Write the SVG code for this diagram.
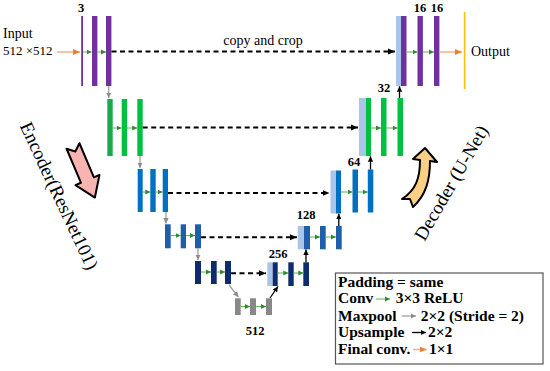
<svg xmlns="http://www.w3.org/2000/svg" width="550" height="371" viewBox="0 0 550 371">
<style>
.t{font-family:"Liberation Serif","Times New Roman",serif;fill:#000}
.n{font-size:12.5px;font-weight:bold;text-anchor:middle}
.lg{font-size:15.5px;font-weight:bold}
.pu{fill:#7030a0}.gr{fill:#00c040}.gr2{fill:#1aa84c}.bl{fill:#0070c0}.b3{fill:#1f5fa8}.nv{fill:#0e2b6e}.gy{fill:#888888}.lb{fill:#a9c5e9}
.cg{stroke:#62b062;stroke-width:1;fill:none}
.cm{stroke:#a0a0a0;stroke-width:1.3;fill:none}
.cu{stroke:#000;stroke-width:1.3;fill:none}
.cd{stroke:#000;stroke-width:2;stroke-dasharray:5 3.5;fill:none}
.co{stroke:#f6b08a;stroke-width:1.5;fill:none}
</style>
<defs>
<marker id="hg" markerUnits="userSpaceOnUse" markerWidth="6" markerHeight="6" refX="5" refY="3" orient="auto"><path d="M0,0.6 L5,3 L0,5.4 Z" fill="#2e8b2e"/></marker>
<marker id="hm" markerUnits="userSpaceOnUse" markerWidth="7" markerHeight="7" refX="5.5" refY="3.5" orient="auto"><path d="M0,0.8 L5.5,3.5 L0,6.2 Z" fill="#8c8c8c"/></marker>
<marker id="hu" markerUnits="userSpaceOnUse" markerWidth="7" markerHeight="7" refX="5.5" refY="3.5" orient="auto"><path d="M0,0.8 L5.5,3.5 L0,6.2 Z" fill="#000"/></marker>
<marker id="hd" markerUnits="userSpaceOnUse" markerWidth="8" markerHeight="8" refX="7" refY="4" orient="auto"><path d="M0,1 L7,4 L0,7 Z" fill="#000"/></marker>
<marker id="ho" markerUnits="userSpaceOnUse" markerWidth="8" markerHeight="8" refX="7" refY="4" orient="auto"><path d="M0,1 L7,4 L0,7 Z" fill="#f08030"/></marker>
</defs>

<g id="input-label">
<text class="t" x="3" y="38" font-size="14">Input</text>
<text class="t" x="3" y="55" font-size="13">512 ×512</text>
</g>

<g id="enc0">
<rect x="81.2" y="16" width="1.8" height="70" class="pu"/>
<rect x="92" y="16" width="5.4" height="70" class="pu"/>
<rect x="106" y="16" width="5.4" height="70" class="pu"/>
<text class="t n" x="81" y="12">3</text>
</g>
<g id="dec0">
<rect x="396" y="16" width="5" height="70" class="lb"/>
<rect x="401" y="16" width="5.5" height="70" class="pu"/>
<rect x="417.5" y="16" width="5.4" height="70" class="pu"/>
<rect x="434" y="16" width="5.4" height="70" class="pu"/>
<text class="t n" x="420" y="12">16</text>
<text class="t n" x="437" y="12">16</text>
</g>
<g id="output">
<rect x="463.8" y="12" width="1.6" height="77" fill="#ffc000"/>
<text class="t" x="471" y="56" font-size="14">Output</text>
</g>

<g id="enc1">
<rect x="107.3" y="99" width="5.4" height="57" class="gr2"/>
<rect x="121.7" y="99" width="5.4" height="57" class="gr"/>
<rect x="137.3" y="99" width="5.4" height="57" class="gr"/>
</g>
<g id="dec1">
<rect x="359" y="98" width="7" height="58" class="lb"/>
<rect x="366" y="98" width="5" height="58" class="gr"/>
<rect x="381" y="98" width="5.5" height="58" class="gr"/>
<rect x="397.5" y="98" width="5.5" height="58" class="gr"/>
<text class="t n" x="384" y="92">32</text>
</g>

<g id="enc2">
<rect x="137.7" y="169" width="5" height="43" class="bl"/>
<rect x="150.3" y="169" width="5.4" height="43" class="bl"/>
<rect x="162.7" y="169" width="5.3" height="43" class="bl"/>
</g>
<g id="dec2">
<rect x="330.5" y="170.5" width="5.5" height="43" class="lb"/>
<rect x="336" y="170.5" width="5" height="43" class="bl"/>
<rect x="352.5" y="169.5" width="5.5" height="43" class="bl"/>
<rect x="367.8" y="169.5" width="5.5" height="43" class="bl"/>
<text class="t n" x="354" y="166">64</text>
</g>

<g id="enc3">
<rect x="165" y="224.3" width="5.7" height="24" class="b3"/>
<rect x="180.7" y="224.3" width="5.3" height="24" class="b3"/>
<rect x="195" y="224.3" width="6" height="24" class="b3"/>
</g>
<g id="dec3">
<rect x="297.7" y="226" width="6.3" height="23.3" class="lb"/>
<rect x="304" y="226" width="6" height="23.3" class="b3"/>
<rect x="320" y="226" width="5.7" height="23.3" class="b3"/>
<rect x="336" y="226" width="5.7" height="23.3" class="b3"/>
<text class="t n" x="306" y="219">128</text>
</g>

<g id="enc4">
<rect x="195" y="261" width="6" height="23" class="nv"/>
<rect x="211" y="261" width="5.7" height="23" class="nv"/>
<rect x="225" y="261" width="6" height="23" class="nv"/>
</g>
<g id="dec4">
<rect x="267.3" y="262.3" width="5.4" height="23.7" class="lb"/>
<rect x="272.7" y="262.3" width="5" height="23.7" class="nv"/>
<rect x="288.3" y="262.3" width="5.4" height="23.7" class="nv"/>
<rect x="303.3" y="262.3" width="5.7" height="23.7" class="nv"/>
<text class="t n" x="278" y="258">256</text>
</g>

<g id="bottleneck">
<rect x="235" y="298.3" width="5.7" height="16.7" class="gy"/>
<rect x="250" y="298.3" width="6" height="16.7" class="gy"/>
<rect x="266" y="298.3" width="6" height="16.7" class="gy"/>
<text class="t n" x="255" y="335">512</text>
</g>

<g id="connectors">
<line x1="57" y1="52" x2="80" y2="52" class="co" marker-end="url(#ho)"/>
<line x1="439.5" y1="52" x2="462" y2="52" class="co" marker-end="url(#ho)"/>
<line x1="83" y1="52" x2="91.5" y2="52" class="cg" marker-end="url(#hg)"/>
<line x1="97.5" y1="52" x2="106" y2="52" class="cg" marker-end="url(#hg)"/>
<line x1="406.5" y1="52" x2="417.5" y2="52" class="cg" marker-end="url(#hg)"/>
<line x1="423" y1="52" x2="434" y2="52" class="cg" marker-end="url(#hg)"/>
<line x1="112.7" y1="128" x2="121.5" y2="128" class="cg" marker-end="url(#hg)"/>
<line x1="127.1" y1="128" x2="137.2" y2="128" class="cg" marker-end="url(#hg)"/>
<line x1="371" y1="128" x2="381" y2="128" class="cg" marker-end="url(#hg)"/>
<line x1="386.5" y1="128" x2="397.5" y2="128" class="cg" marker-end="url(#hg)"/>
<line x1="142.7" y1="192" x2="150.3" y2="192" class="cg" marker-end="url(#hg)"/>
<line x1="155.7" y1="192" x2="162.7" y2="192" class="cg" marker-end="url(#hg)"/>
<line x1="341" y1="192" x2="352.5" y2="192" class="cg" marker-end="url(#hg)"/>
<line x1="358" y1="192" x2="367.8" y2="192" class="cg" marker-end="url(#hg)"/>
<line x1="170.7" y1="235.5" x2="180.7" y2="235.5" class="cg" marker-end="url(#hg)"/>
<line x1="186" y1="235.5" x2="195" y2="235.5" class="cg" marker-end="url(#hg)"/>
<line x1="310" y1="237" x2="320" y2="237" class="cg" marker-end="url(#hg)"/>
<line x1="325.7" y1="237" x2="336" y2="237" class="cg" marker-end="url(#hg)"/>
<line x1="201" y1="272" x2="211" y2="272" class="cg" marker-end="url(#hg)"/>
<line x1="216.7" y1="272" x2="225" y2="272" class="cg" marker-end="url(#hg)"/>
<line x1="277.7" y1="273" x2="288.3" y2="273" class="cg" marker-end="url(#hg)"/>
<line x1="293.7" y1="273" x2="303.3" y2="273" class="cg" marker-end="url(#hg)"/>
<line x1="240.7" y1="306.5" x2="250" y2="306.5" class="cg" marker-end="url(#hg)"/>
<line x1="256" y1="306.5" x2="266" y2="306.5" class="cg" marker-end="url(#hg)"/>
<line x1="111.5" y1="51.5" x2="395" y2="51.5" class="cd" marker-end="url(#hd)"/>
<text class="t" x="263" y="45" font-size="14" text-anchor="middle">copy and crop</text>
<line x1="142.7" y1="127.5" x2="358" y2="127.5" class="cd" marker-end="url(#hd)"/>
<line x1="168" y1="193" x2="329.5" y2="193" class="cd" marker-end="url(#hd)"/>
<line x1="201" y1="237.3" x2="297" y2="237.3" class="cd" marker-end="url(#hd)"/>
<line x1="231" y1="273.3" x2="266" y2="273.3" class="cd" marker-end="url(#hd)"/>
<line x1="108.7" y1="86" x2="108.7" y2="98" class="cm" marker-end="url(#hm)"/>
<line x1="140" y1="156" x2="140" y2="168" class="cm" marker-end="url(#hm)"/>
<line x1="166" y1="212" x2="166" y2="223.5" class="cm" marker-end="url(#hm)"/>
<line x1="198" y1="248.3" x2="198" y2="260" class="cm" marker-end="url(#hm)"/>
<line x1="229" y1="285" x2="238.5" y2="297" class="cm" marker-end="url(#hm)"/>
<line x1="270" y1="298" x2="278" y2="286.5" class="cu" marker-end="url(#hu)"/>
<line x1="306" y1="262.3" x2="306" y2="249.5" class="cu" marker-end="url(#hu)"/>
<line x1="338.8" y1="226" x2="338.8" y2="213.8" class="cu" marker-end="url(#hu)"/>
<line x1="370.5" y1="169.5" x2="370.5" y2="156.3" class="cu" marker-end="url(#hu)"/>
<line x1="399.5" y1="98" x2="399.5" y2="86.3" class="cu" marker-end="url(#hu)"/>
</g>

<g id="encoder-label">
<path transform="translate(73,146) rotate(67)" d="M0,-7 L37,-7 L37,-13 L56,0 L37,13 L37,7 L0,7 L6,0 Z" fill="#f8b4b0" stroke="#000" stroke-width="2" stroke-linejoin="round"/>
<text class="t" transform="translate(53.5,198.5) rotate(65)" font-size="19" text-anchor="middle">Encoder(ResNet101)</text>
</g>
<g id="decoder-label">
<path d="M425,148 L437,162 L430,161 C430,180 426,195 413,207 L410,199 L402,199 C416,190 420,178 420,160 L413,159 Z" fill="#fbcf85" stroke="#000" stroke-width="2" stroke-linejoin="round"/>
<text class="t" transform="translate(456.7,186) rotate(-60)" font-size="19" text-anchor="middle">Decoder (U-Net)</text>
</g>

<g id="legend">
<rect x="335.5" y="273" width="207.5" height="91" fill="#fff" stroke="#555" stroke-width="1.2"/>
<text class="t lg" x="338" y="286.7">Padding = same</text>
<text class="t lg" x="338" y="303.3">Conv</text>
<line x1="375.7" y1="299" x2="390" y2="299" class="cg" marker-end="url(#hg)"/>
<text class="t lg" x="395.7" y="303.3">3×3 ReLU</text>
<text class="t lg" x="338" y="320.7">Maxpool</text>
<line x1="401.7" y1="316" x2="416" y2="316" class="cm" marker-end="url(#hm)"/>
<text class="t lg" x="420.7" y="320.7">2×2 (Stride = 2)</text>
<text class="t lg" x="338" y="337.3">Upsample</text>
<line x1="412" y1="332.5" x2="426" y2="332.5" class="cu" marker-end="url(#hu)"/>
<text class="t lg" x="428" y="337.3">2×2</text>
<text class="t lg" x="338" y="354">Final conv.</text>
<line x1="413" y1="349.5" x2="426.7" y2="349.5" class="co" marker-end="url(#ho)"/>
<text class="t lg" x="429" y="354">1×1</text>
</g>
</svg>
